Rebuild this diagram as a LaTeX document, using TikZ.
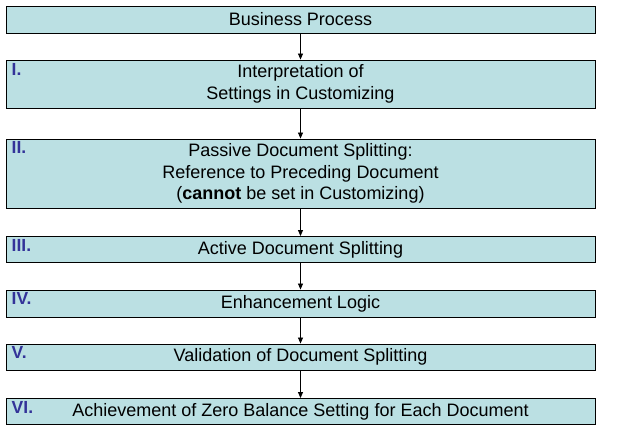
\documentclass[tikz,border=0pt]{standalone}
\usepackage{fontspec}
\setmainfont{Liberation Sans}
\usetikzlibrary{arrows.meta}
\definecolor{boxfill}{RGB}{187,224,227}
\definecolor{numblue}{RGB}{51,51,153}
\begin{document}
\begin{tikzpicture}[x=1pt, y=-1pt,
		stage/.style={draw, fill=boxfill, line width=0.9pt, minimum width=589pt, inner sep=0pt, align=center, font=\fontsize{18}{21.5}\selectfont},
		numeral/.style={anchor=north west, inner sep=0pt, text=numblue, font=\fontsize{17.5}{17.5}\selectfont\bfseries},
		flow/.style={-{Triangle[length=6pt,width=5pt]}, line width=0.7pt}]
				\useasboundingbox (0,0) rectangle (634,439);
				
				\node[stage, minimum height=27pt] (bp) at (300.5, 19.5) {Business Process};
				\node[stage, minimum height=48pt] (s1) at (300.5, 84) {Interpretation of\\Settings in Customizing};
				\node[stage, minimum height=69pt] (s2) at (300.5, 173.5) {Passive Document Splitting:\\Reference to Preceding Document\\(\textbf{cannot} be set in Customizing)};
				\node[stage, minimum height=26pt] (s3) at (300.5, 249.5) {Active Document Splitting};
				\node[stage, minimum height=27pt] (s4) at (300.5, 303.5) {Enhancement Logic};
				\node[stage, minimum height=26pt] (s5) at (300.5, 357) {Validation of Document Splitting};
				\node[stage, minimum height=26pt] (s6) at (300.5, 411.5) {Achievement of Zero Balance Setting for Each Document};
				
				\node[numeral] (n1) at ([shift={(6,4)}]s1.north west) {I.};
				\node[numeral] (n2) at ([shift={(6,3)}]s2.north west) {II.};
				\node[numeral] (n3) at ([shift={(6,3)}]s3.north west) {III.};
				\node[numeral] (n4) at ([shift={(6,3)}]s4.north west) {IV.};
				\node[numeral] (n5) at ([shift={(6,3)}]s5.north west) {V.};
				\node[numeral] (n6) at ([shift={(6,3)}]s6.north west) {VI.};
				
				\draw[flow] (bp) -- (s1);
				\draw[flow] (s1) -- (s2);
				\draw[flow] (s2) -- (s3);
				\draw[flow] (s3) -- (s4);
				\draw[flow] (s4) -- (s5);
				\draw[flow] (s5) -- (s6);
				\end{tikzpicture}
\end{document}
